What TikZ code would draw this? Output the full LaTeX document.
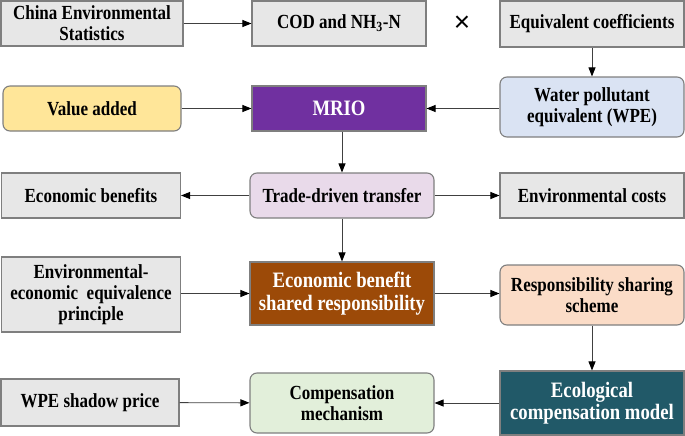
\documentclass[tikz,border=0pt]{standalone}
\usepackage{fontspec}
\setmainfont[FakeStretch=0.85]{Liberation Serif}
\newfontfamily\symfont{Liberation Sans}
\usetikzlibrary{arrows.meta}
\definecolor{boxline}{HTML}{7F7F7F}
\definecolor{greyfill}{HTML}{E7E7E7}
\definecolor{yellowfill}{HTML}{FFE699}
\definecolor{mriofill}{HTML}{7030A0}
\definecolor{bluefill}{HTML}{DAE3F3}
\definecolor{pinkfill}{HTML}{E9DAEA}
\definecolor{brownfill}{HTML}{9C4A08}
\definecolor{peachfill}{HTML}{FBDCC7}
\definecolor{tealfill}{HTML}{215968}
\definecolor{greenfill}{HTML}{E2EFDA}
\definecolor{arrline}{HTML}{404040}
\tikzset{
  box/.style={draw=boxline, line width=1.1pt, inner sep=0pt, align=center,
    font=\fontsize{20}{21}\selectfont\bfseries},
  roundbox/.style={box, rounded corners=7pt},
  darkbox/.style={box, text=white, font=\fontsize{22}{22.5}\selectfont\bfseries},
  arr/.style={draw=arrline, line width=0.9pt, -{Triangle[length=9pt,width=7pt,black]}},
}
\begin{document}
\begin{tikzpicture}[x=1pt,y=1pt,yscale=-1]
\useasboundingbox (0,0) rectangle (685,436);

%Row 1
\node [box, fill=greyfill, minimum width=182, minimum height=45] (china) at (92,23.5) {China Environmental\\Statistics};
\node [box, fill=greyfill, minimum width=174, minimum height=45] (cod) at (339,23.5) {COD and NH\textsubscript{3}-N};
\node [font=\symfont\fontsize{28}{28}\selectfont] (times) at (462,24) {×};
\node [box, fill=greyfill, minimum width=184, minimum height=46] (equiv) at (592,24) {Equivalent coefficients};

%Row 2
\node [roundbox, fill=yellowfill, minimum width=178, minimum height=45] (value) at (92,108.5) {Value added};
\node [darkbox, fill=mriofill, minimum width=174, minimum height=45] (mrio) at (339,108.5) {MRIO};
\node [roundbox, fill=bluefill, minimum width=184, minimum height=60] (wpe) at (592,107) {Water pollutant\\equivalent (WPE)};

%Row 3
\node [box, fill=greyfill, minimum width=179, minimum height=45] (benefit) at (91,195.5) {Economic benefits};
\node [roundbox, fill=pinkfill, minimum width=184, minimum height=45] (trade) at (342,195.5) {Trade-driven transfer};
\node [box, fill=greyfill, minimum width=184, minimum height=45] (cost) at (592,195.5) {Environmental costs};

%Row 4
\node [box, fill=greyfill, minimum width=179, minimum height=75] (principle) at (91,294.5) {Environmental-\\economic\ \ equivalence\\principle};
\node [darkbox, fill=brownfill, minimum width=184, minimum height=63] (shared) at (342,293.5) {Economic benefit\\shared responsibility};
\node [roundbox, fill=peachfill, minimum width=184, minimum height=60] (scheme) at (592,295) {Responsibility sharing\\scheme};

%Row 5
\node [box, fill=greyfill, minimum width=178, minimum height=47] (shadow) at (90,402.5) {WPE shadow price};
\node [roundbox, fill=greenfill, minimum width=184, minimum height=60] (mech) at (342,403) {Compensation\\mechanism};
\node [darkbox, fill=tealfill, minimum width=184, minimum height=64] (eco) at (592,403) {Ecological\\compensation model};

%Connectors
\draw [arr] (china) -- (cod);
\draw [arr] (equiv) -- (wpe);
\draw [arr] (value) -- (mrio);
\draw [arr] (wpe.west |- mrio.east) -- (mrio.east);
\draw [arr] (trade.north |- mrio.south) -- (trade.north);
\draw [arr] (trade) -- (benefit);
\draw [arr] (trade) -- (cost);
\draw [arr] (trade) -- (shared);
\draw [arr] (principle.east |- shared.east) -- (shared.west);
\draw [arr] (shared.east) -- (scheme.west |- shared.east);
\draw [arr] (scheme) -- (eco);
\draw [arr] (shadow) -- (mech);
\draw [arr] (eco) -- (mech);

\end{tikzpicture}
\end{document}
